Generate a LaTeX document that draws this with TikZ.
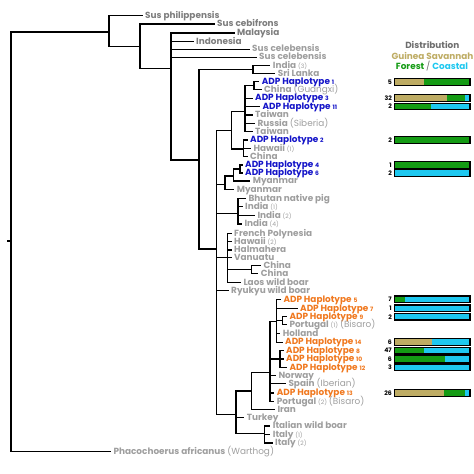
\documentclass[tikz,border=0pt]{standalone}
\usepackage{fontspec}
\setmainfont{Poppins}
\definecolor{lgray}{RGB}{158,158,158}
\definecolor{dgray}{RGB}{125,125,125}
\definecolor{adpblue}{RGB}{20,20,200}
\definecolor{adporange}{RGB}{240,120,30}
\definecolor{savcol}{RGB}{190,172,100}
\definecolor{forcol}{RGB}{20,155,20}
\definecolor{coacol}{RGB}{30,200,240}
\definecolor{distgray}{RGB}{110,110,110}
\newcommand\tinynum[1]{{\mdseries\fontsize{6}{6}\selectfont(#1)}}
\newcommand\parword[1]{{\mdseries(#1)}}
\newcommand\hapnum[1]{{\fontsize{6}{6}\selectfont #1}}
\newcommand\distbar[5]{%
  \fill[savcol] (394.3,#1-3.3) rectangle ({394.3+75.7*#3},#1+3.3);
  \fill[forcol] ({394.3+75.7*#3},#1-3.3) rectangle ({394.3+75.7*#4},#1+3.3);
  \fill[coacol] ({394.3+75.7*#4},#1-3.3) rectangle (470,#1+3.3);
  \draw[barline] (394.3,#1-3.3) rectangle (470,#1+3.3);
  \node[cnt] (c#5) at (392,#1) {#2};}
\begin{document}
\begin{tikzpicture}[x=1pt,y=-1pt,
  br/.style={line width=1.2pt},
  barline/.style={line width=1.1pt},
  lf/.style={anchor=west, inner xsep=2.5pt, inner ysep=0pt, text height=5.4pt, text depth=0pt,
    font=\bfseries\fontsize{8.9}{9}\selectfont, text=lgray},
  dk/.style={lf, text=dgray},
  bl/.style={lf, text=adpblue},
  og/.style={lf, text=adporange},
  cnt/.style={anchor=east, inner sep=0pt, font=\bfseries\fontsize{6.2}{6}\selectfont},
  leg/.style={inner sep=0pt, font=\bfseries\fontsize{8.9}{9}\selectfont}]
\useasboundingbox (0,0) rectangle (474,474);
% internal nodes
\coordinate (rs) at (7,241);
\coordinate (R) at (11,241);
\coordinate (n1) at (109,32);
\coordinate (n2) at (140,46.7);
\coordinate (n3) at (171,68.3);
\coordinate (n4) at (199,160);
\coordinate (n5) at (253,69.6);
\coordinate (n6) at (216.7,249);
\coordinate (n7) at (231.7,130.7);
\coordinate (n12) at (245,111.7);
\coordinate (n14) at (254,85.8);
\coordinate (n13) at (243.3,149);
\coordinate (n8) at (225,184.3);
\coordinate (n15) at (233.3,176);
\coordinate (n16) at (240,169);
\coordinate (n9) at (238,213.3);
\coordinate (n10) at (227.7,257.3);
\coordinate (n17) at (251.7,269.7);
\coordinate (n11) at (236,414.3);
\coordinate (n18) at (251.7,391);
\coordinate (n19) at (264.3,433.3);
\coordinate (n20) at (270,372.7);
\coordinate (n21) at (276.7,321.7);
\coordinate (n23) at (282.7,320.6);
\coordinate (n22) at (280,359);
% leaves
\node[dk] (l0) at (142.5,15.5) {Sus philippensis};
\node[dk] (l1) at (214.5,24) {Sus cebifrons};
\node[dk] (l2) at (234.5,33) {Malaysia};
\node[dk] (l3) at (193.5,41.5) {Indonesia};
\node[lf] (l4) at (249.5,49.2) {Sus celebensis};
\node[lf] (l5) at (256.5,57.2) {Sus celebensis};
\node[lf] (l6) at (270.2,65.5) {India \tinynum{3}};
\node[lf] (l7) at (275.2,73.8) {Sri Lanka};
\node[bl] (l8) at (259.2,81.8) {ADP Haplotype \hapnum{1}};
\node[lf] (l9) at (261.5,89.8) {China \parword{Guangxi}};
\node[bl] (l10) at (252.5,98.2) {ADP Haplotype \hapnum{3}};
\node[bl] (l11) at (259.8,106.6) {ADP Haplotype \hapnum{11}};
\node[lf] (l12) at (252.5,115) {Taiwan};
\node[lf] (l13) at (254.8,123.3) {Russia \parword{Siberia}};
\node[lf] (l14) at (252.5,131.7) {Taiwan};
\node[bl] (l15) at (247.5,140) {ADP Haplotype \hapnum{2}};
\node[lf] (l16) at (250.8,148.3) {Hawaii \tinynum{1}};
\node[lf] (l17) at (247.5,156.7) {China};
\node[bl] (l18) at (242.5,165) {ADP Haplotype \hapnum{4}};
\node[bl] (l19) at (242.5,172.9) {ADP Haplotype \hapnum{6}};
\node[lf] (l20) at (250.2,181) {Myanmar};
\node[lf] (l21) at (234.2,189.3) {Myanmar};
\node[lf] (l22) at (245.8,198.3) {Bhutan native pig};
\node[lf] (l23) at (242.5,206.8) {India \tinynum{1}};
\node[lf] (l24) at (254.8,215.5) {India \tinynum{2}};
\node[lf] (l25) at (241.8,224) {India \tinynum{4}};
\node[lf] (l26) at (231.5,233.3) {French Polynesia};
\node[lf] (l27) at (231.5,241.7) {Hawaii \tinynum{2}};
\node[lf] (l28) at (231.5,250) {Halmahera};
\node[lf] (l29) at (231.5,257.8) {Vanuatu};
\node[lf] (l30) at (260.8,265.8) {China};
\node[lf] (l31) at (258.2,273.6) {China};
\node[lf] (l32) at (240.8,282.3) {Laos wild boar};
\node[lf] (l33) at (228.5,290.8) {Ryukyu wild boar};
\node[og] (l34) at (280.8,299.3) {ADP Haplotype \hapnum{5}};
\node[og] (l35) at (297.5,308.3) {ADP Haplotype \hapnum{7}};
\node[og] (l36) at (286.8,316.7) {ADP Haplotype \hapnum{9}};
\node[lf] (l37) at (286.8,324.6) {Portugal \tinynum{1} \parword{Bisaro}};
\node[lf] (l38) at (280.2,333.3) {Holland};
\node[og] (l39) at (282.5,342.2) {ADP Haplotype \hapnum{14}};
\node[og] (l40) at (283.5,350.7) {ADP Haplotype \hapnum{8}};
\node[og] (l41) at (283.5,359) {ADP Haplotype \hapnum{10}};
\node[og] (l42) at (286.8,367.3) {ADP Haplotype \hapnum{12}};
\node[lf] (l43) at (275.8,375.3) {Norway};
\node[lf] (l44) at (285.8,383.5) {Spain \parword{Iberian}};
\node[og] (l45) at (274.2,393) {ADP Haplotype \hapnum{13}};
\node[lf] (l46) at (274.2,401.5) {Portugal \tinynum{2} \parword{Bisaro}};
\node[lf] (l47) at (274.8,409.5) {Iran};
\node[lf] (l48) at (244.2,417.3) {Turkey};
\node[lf] (l49) at (270.2,426) {Italian wild boar};
\node[lf] (l50) at (270.2,434.4) {Italy \tinynum{1}};
\node[lf] (l51) at (272.5,443) {Italy \tinynum{2}};
\node[lf] (l52) at (110.8,451.7) {Phacochoerus africanus \parword{Warthog}};
% branches
\draw[br] (rs) -- (R);
\draw[br] (R) |- (n1);
\draw[br] (R) |- (l52.west);
\draw[br] (n1) |- (l0.west);
\draw[br] (n1) |- (n2);
\draw[br] (n2) |- (l1.west);
\draw[br] (n2) |- (n3);
\foreach \c in {l2,l3,l4,l5} \draw[br] (n3) |- (\c.west);
\draw[br] (n3) |- (n4);
\draw[br] (n4) |- (n5);
\draw[br] (n4) |- (n6);
\draw[br] (n5) |- (l6.west);
\draw[br] (n5) |- (l7.west);
\draw[br] (n6) |- (n7);
\draw[br] (n6) |- (n8);
\draw[br] (n6) |- (n9);
\draw[br] (n6) |- (n10);
\draw[br] (n6) |- (l33.west);
\draw[br] (n6) |- (n11);
\draw[br] (n7) |- (n12);
\draw[br] (n7) |- (n13);
\draw[br] (n12) |- (n14);
\draw[br] (n14) |- (l8.west);
\draw[br] (n14) |- (l9.west);
\foreach \c in {l10,l11,l12,l13,l14} \draw[br] (n12) |- (\c.west);
\foreach \c in {l15,l16,l17} \draw[br] (n13) |- (\c.west);
\draw[br] (n8) |- (n15);
\draw[br] (n8) |- (l21.west);
\draw[br] (n15) |- (n16);
\draw[br] (n15) |- (l20.west);
\draw[br] (n16) |- (l18.west);
\draw[br] (n16) |- (l19.west);
\foreach \c in {l22,l23,l24,l25} \draw[br] (n9) |- (\c.west);
\foreach \c in {l26,l27,l28,l29,l32} \draw[br] (n10) |- (\c.west);
\draw[br] (n10) |- (n17);
\draw[br] (n17) |- (l30.west);
\draw[br] (n17) |- (l31.west);
\draw[br] (n11) |- (n18);
\draw[br] (n11) |- (l48.west);
\draw[br] (n11) |- (n19);
\foreach \c in {l49,l50,l51} \draw[br] (n19) |- (\c.west);
\draw[br] (n18) |- (n20);
\draw[br] (n18) |- (l47.west);
\draw[br] (n20) |- (n21);
\draw[br] (n20) |- (n22);
\foreach \c in {l43,l44,l45,l46} \draw[br] (n20) |- (\c.west);
\foreach \c in {l34,l35,l38,l39} \draw[br] (n21) |- (\c.west);
\draw[br] (n21) |- (n23);
\draw[br] (n23) |- (l36.west);
\draw[br] (n23) |- (l37.west);
\foreach \c in {l40,l41,l42} \draw[br] (n22) |- (\c.west);
% legend
\node[leg, text=distgray] (legtitle) at (432.3,45) {Distribution};
\node[leg, text=savcol] (legsav) at (432.5,56) {Guinea Savannah};
\node[leg] (legfc) at (432,65.7) {\textcolor{forcol}{Forest} \textcolor{distgray}{\mdseries/} \textcolor{coacol}{Coastal}};
% distribution bars
\distbar{81.8}{5}{0.39}{1}{8}
\distbar{98.2}{32}{0.69}{0.934}{10}
\distbar{106.6}{2}{0}{0.49}{11}
\distbar{140}{2}{0}{1}{15}
\distbar{165}{1}{0}{1}{18}
\distbar{172.9}{2}{0}{0}{19}
\distbar{299.3}{7}{0}{0.135}{34}
\distbar{308.3}{1}{0}{0}{35}
\distbar{316.7}{2}{0}{0}{36}
\distbar{342.2}{6}{0.5}{0.5}{39}
\distbar{350.7}{47}{0}{0.39}{40}
\distbar{359}{6}{0}{0.67}{41}
\distbar{367.3}{3}{0}{0}{42}
\distbar{393}{26}{0.66}{0.934}{45}
\end{tikzpicture}
\end{document}
